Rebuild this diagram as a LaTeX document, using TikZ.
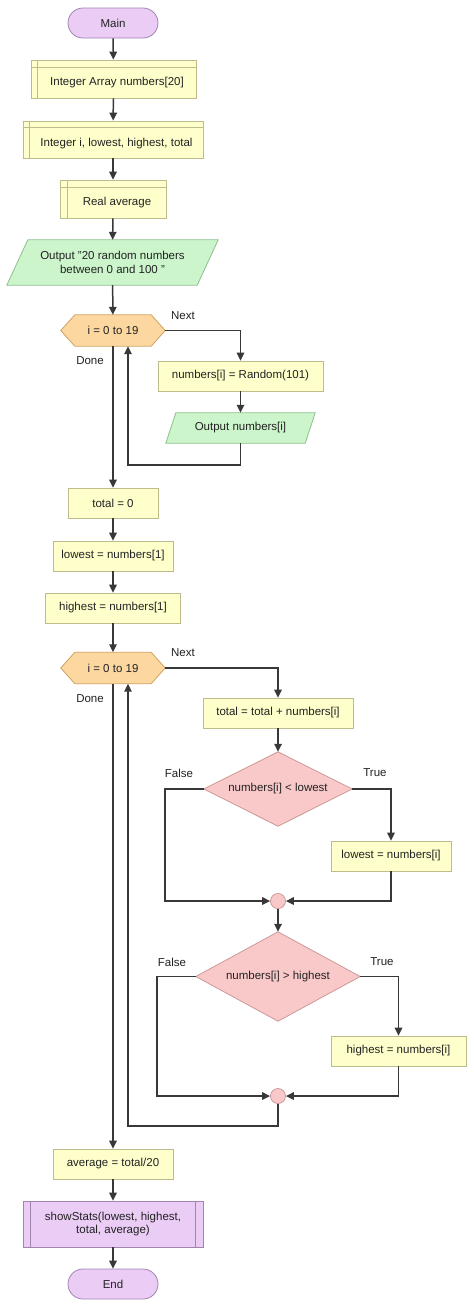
\documentclass[tikz,border=0pt]{standalone}
\usepackage{fontspec}
\setmainfont{Liberation Sans}
\usetikzlibrary{arrows.meta,shapes.geometric,backgrounds}
\definecolor{ylfill}{HTML}{FFFFCC}
\definecolor{ylline}{HTML}{BDBD8C}
\definecolor{grfill}{HTML}{CCF5CC}
\definecolor{grline}{HTML}{8FBF8F}
\definecolor{pkfill}{HTML}{F9C9CA}
\definecolor{pkline}{HTML}{CC9999}
\definecolor{pufill}{HTML}{EACCF5}
\definecolor{puline}{HTML}{A284B0}
\definecolor{orfill}{HTML}{FCD8A0}
\definecolor{orline}{HTML}{D0A060}
\definecolor{lnc}{HTML}{383838}
\definecolor{txtc}{HTML}{222222}
\begin{document}
\begin{tikzpicture}[x=1pt,y=-1pt,
  font=\fontsize{11.5}{13.8}\selectfont,
  every node/.style={text=txtc},
  box/.style={draw=ylline, fill=ylfill, line width=0.8pt, inner sep=0pt, minimum height=30pt},
  term/.style={draw=puline, fill=pufill, rounded corners=15pt, line width=0.8pt, minimum width=90pt, minimum height=30pt, inner sep=0pt},
  blank/.style={inner sep=0pt},
  junction/.style={circle, draw=pkline, fill=pkfill, line width=0.8pt, minimum size=15pt, inner sep=0pt},
  lbl/.style={inner sep=0pt},
  arr/.style={draw=lnc, line width=1.5pt, -{Triangle[length=8pt,width=7.5pt]}},
  hexfill/.style={draw=orline, fill=orfill, line width=0.8pt},
  iofill/.style={draw=grline, fill=grfill, line width=0.8pt},
  condfill/.style={draw=pkline, fill=pkfill, line width=0.8pt},
  innerln/.style={draw=ylline, line width=0.8pt},
  innerpu/.style={draw=puline, line width=0.8pt}
]
\useasboundingbox (0,0) rectangle (474,1307);
\begin{scope}[on background layer]
  \fill[white] (0,0) rectangle (474,1307);
\end{scope}

% nodes
\node[term] (main) at (113,23) {Main};

\node[box, minimum width=165pt, minimum height=38pt] (d1) at (113.5,79) {};
\node[blank] (d1t) at (117,83) {Integer Array numbers[20]};
\draw[innerln] ([xshift=7pt]d1.north west) -- ([xshift=7pt]d1.south west);
\draw[innerln] ([yshift=-8pt]d1.north west) -- ([yshift=-8pt]d1.north east);

\node[box, minimum width=180pt, minimum height=37pt] (d2) at (113,139.5) {};
\node[blank] (d2t) at (116.5,143.5) {Integer i, lowest, highest, total};
\draw[innerln] ([xshift=7pt]d2.north west) -- ([xshift=7pt]d2.south west);
\draw[innerln] ([yshift=-7pt]d2.north west) -- ([yshift=-7pt]d2.north east);

\node[box, minimum width=106pt, minimum height=38pt] (d3) at (113,199) {};
\node[blank] (d3t) at (117,203) {Real average};
\draw[innerln] ([xshift=8pt]d3.north west) -- ([xshift=8pt]d3.south west);
\draw[innerln] ([yshift=-8pt]d3.north west) -- ([yshift=-8pt]d3.north east);

\node[blank, minimum width=190pt, minimum height=45pt, align=center] (out1) at (112.5,262.5) {Output "20 random numbers\\between 0 and 100 "};

\node[blank, minimum width=104pt, minimum height=31pt] (h1) at (113,330.5) {i = 0 to 19};
\node[box, minimum width=165pt] (r1) at (240.5,376) {numbers[i] = Random(101)};
\node[blank, minimum width=139pt, minimum height=30pt] (out2) at (240.5,428) {Output numbers[i]};

\node[box, minimum width=90pt] (t0) at (113,503) {total = 0};
\node[box, minimum width=120pt] (lw) at (113,556) {lowest = numbers[1]};
\node[box, minimum width=135pt] (hg) at (113,608) {highest = numbers[1]};

\node[blank, minimum width=104pt, minimum height=31pt] (h2) at (113,668) {i = 0 to 19};
\node[box, minimum width=150pt] (tt) at (278,713) {total = total + numbers[i]};
\node[blank, minimum width=148pt, minimum height=74pt] (dm1) at (278,789) {numbers[i] < lowest};
\node[box, minimum width=120pt] (lw2) at (391,856) {lowest = numbers[i]};
\node[junction] (c1) at (278,901) {};
\node[blank, minimum width=164pt, minimum height=89pt] (dm2) at (278,976.5) {numbers[i] > highest};
\node[box, minimum width=135pt] (hg2) at (398.5,1051) {highest = numbers[i]};
\node[junction] (c2) at (278,1096) {};

\node[box, minimum width=120pt] (av) at (113,1164) {average = total/20};
\node[box, draw=puline, fill=pufill, minimum width=180pt, minimum height=46pt, align=center] (ss) at (113,1224) {showStats(lowest, highest,\\total, average)};
\draw[innerpu] ([xshift=8pt]ss.north west) -- ([xshift=8pt]ss.south west);
\draw[innerpu] ([xshift=-8pt]ss.north east) -- ([xshift=-8pt]ss.south east);
\node[term] (end) at (113,1284) {End};

% shapes drawn behind text nodes
\begin{scope}[on background layer]
  \draw[iofill] ([xshift=10.5pt]out1.north west) -- ([xshift=10.5pt]out1.north east) -- ([xshift=-10.5pt]out1.south east) -- ([xshift=-10.5pt]out1.south west) -- cycle;
  \draw[iofill] ([xshift=5pt]out2.north west) -- ([xshift=5pt]out2.north east) -- ([xshift=-5pt]out2.south east) -- ([xshift=-5pt]out2.south west) -- cycle;
  \foreach \h in {h1,h2}{
    \draw[hexfill] (\h.west) -- ([xshift=14pt]\h.north west) -- ([xshift=-14pt]\h.north east) -- (\h.east) -- ([xshift=-14pt]\h.south east) -- ([xshift=14pt]\h.south west) -- cycle;
  }
  \foreach \d in {dm1,dm2}{
    \draw[condfill] (\d.west) -- (\d.north) -- (\d.east) -- (\d.south) -- cycle;
  }
\end{scope}

% labels
\node[lbl] (nx1) at (183,316) {Next};
\node[lbl] (dn1) at (90,361) {Done};
\node[lbl] (nx2) at (183,653) {Next};
\node[lbl] (dn2) at (90,699) {Done};
\node[lbl] (f1) at (179,773) {False};
\node[lbl] (t1) at (375,773) {True};
\node[lbl] (f2) at (172,962) {False};
\node[lbl] (t2) at (382,962) {True};

% connectors
\draw[arr] (main) -- (d1);
\draw[arr] (d1) -- (d2);
\draw[arr] (d2) -- (d3);
\draw[arr] (d3) -- (out1);
\draw[arr] (out1) -- (h1);
\draw[arr] (h1.east) -| (r1.north);
\draw[arr] (r1) -- (out2);
\draw[arr] (out2.south) -- ++(0,22) -| ([xshift=15pt]h1.south);
\draw[arr] (h1.south) -- (t0.north);
\draw[arr] (t0) -- (lw);
\draw[arr] (lw) -- (hg);
\draw[arr] (hg.south) -- (h2.north);
\draw[arr] (h2.east) -| (tt.north);
\draw[arr] (tt) -- (dm1);
\draw[arr] (dm1.west) -- ++(-39,0) |- (c1.west);
\draw[arr] (dm1.east) -| (lw2.north);
\draw[arr] (lw2.south) |- (c1.east);
\draw[arr] (c1) -- (dm2);
\draw[arr] (dm2.west) -- ++(-39,0) |- (c2.west);
\draw[arr] (dm2.east) -| (hg2.north);
\draw[arr] (hg2.south) |- (c2.east);
\draw[arr] (c2.south) -- ++(0,22) -| ([xshift=15pt]h2.south);
\draw[arr] (h2.south) -- (av.north);
\draw[arr] (av) -- (ss);
\draw[arr] (ss) -- (end);
\end{tikzpicture}
\end{document}
